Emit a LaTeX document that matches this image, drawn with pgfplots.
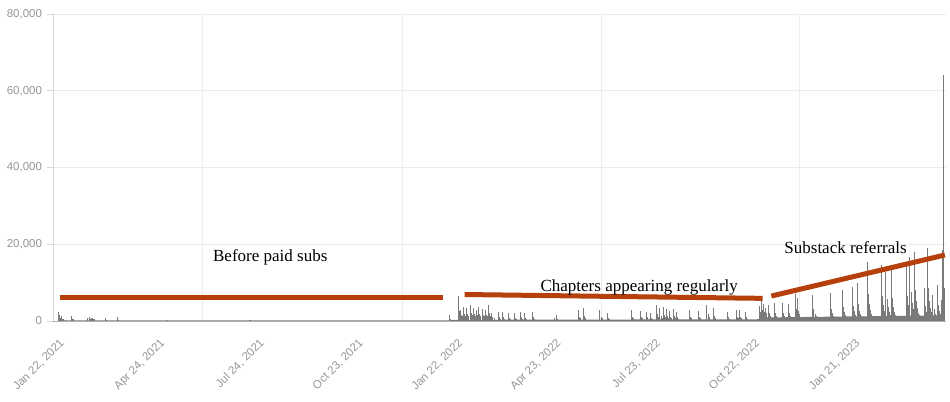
\documentclass[border=0pt]{standalone}
\usepackage{fontspec}
\setmainfont{Liberation Serif}
\newfontfamily\ticksans{Liberation Sans}
\usepackage{pgfplots}
\pgfplotsset{compat=1.18}

\definecolor{barcol}{RGB}{122,122,122}
\definecolor{rust}{RGB}{181,64,12}
\definecolor{tickgray}{RGB}{150,150,150}
\definecolor{gridgray}{RGB}{236,236,236}
\definecolor{ygray}{RGB}{215,215,215}
\definecolor{xgray}{RGB}{175,175,175}

\begin{document}
\begin{tikzpicture}
\begin{axis}[
    scale only axis, width=893pt, height=307pt,
    xmin=-5, xmax=813, ymin=0, ymax=80000,
    axis lines=left, axis line style={-},
    x axis line style={draw=xgray},
    y axis line style={draw=ygray},
    ytick={0,20000,40000,60000,80000},
    scaled y ticks=false,
    /pgf/number format/.cd, fixed, 1000 sep={,}, assume math mode=true, /pgfplots/.cd,
    tick label style={font=\ticksans\fontsize{11.5}{13}\selectfont, text=tickgray},
    yticklabel style={xshift=-1.5pt},
    xtick={0,92,183,274,365,455,546,637,729},
    xticklabels={{Jan 22, 2021},{Apr 24, 2021},{Jul 24, 2021},{Oct 23, 2021},{Jan 22, 2022},{Apr 23, 2022},{Jul 23, 2022},{Oct 22, 2022},{Jan 21, 2023}},
    xticklabel style={xshift=0.5pt, yshift=-6pt, rotate=45, anchor=north east},
    minor xtick={132,315,497,679},
    ymajorgrids, xminorgrids,
    major grid style={draw=gridgray, line width=0.8pt},
    minor grid style={draw=gridgray, line width=0.8pt},
    tick align=outside, major tick length=6pt, minor tick length=0pt,
    xtick style={draw=none},
    ytick style={draw=ygray, line width=0.8pt},
]

% low daily background level
\addplot[fill=barcol, draw=none] coordinates {
    (0,150) (358,150) (362,300) (640,450) (646,900) (700,1100) (760,1300) (812,1500)
} \closedcycle;

% daily views, spikes and their tails
\addplot[ycomb, draw=barcol, line width=1pt] coordinates {
    (0,2400) (1,1500) (2,900) (3,1200) (4,600) (5,500) (6,300)
    (12,1300) (13,600) (14,400)
    (27,700) (28,1000) (29,600) (30,900) (31,800) (32,500) (33,400)
    (43,900) (44,300) (54,1100) (55,300)
    (100,250) (175,350) (176,200)
    (358,1500) (359,500)
    (366,6600) (367,2500) (368,2900) (369,1600) (370,1200) (371,3700) (372,1900)
    (373,1400) (374,3300) (375,1700) (376,1300) (377,4200) (378,2100) (379,1500)
    (380,3300) (381,1700) (382,1200) (383,2900) (384,1500) (385,3700) (386,1900)
    (387,1400) (388,3100) (389,1600) (390,1200) (391,2900) (392,1500) (393,1200)
    (394,4200) (395,2000) (396,1300) (397,2200) (398,1000) (399,700)
    (403,2400) (404,960) (405,600)
    (407,2400) (408,960) (409,600)
    (412,2200) (413,880) (414,550)
    (418,2000) (419,800) (420,500)
    (423,2400) (424,960) (425,600)
    (427,2000) (428,800) (429,500)
    (434,2400) (435,960) (436,600)
    (454,800) (456,1500) (457,600) (458,380)
    (476,2900) (477,1160) (478,720)
    (481,3300) (482,1320) (483,820)
    (496,2900) (497,1160) (498,720)
    (503,2200) (504,880) (505,550)
    (525,2900) (526,1160) (527,720)
    (533,2600) (534,1040) (535,650)
    (539,2400) (540,960) (541,600)
    (542,2000) (543,800) (544,500)
    (548,4200) (549,1700) (550,1050)
    (551,3400) (552,1360) (553,850)
    (554,3700) (555,1480) (556,920)
    (557,3000) (558,1200) (559,750)
    (560,2600) (561,1040) (562,650)
    (563,3000) (564,1200) (565,750)
    (566,2400) (567,960) (568,600)
    (578,2900) (579,1160) (580,720)
    (586,2600) (587,1040) (588,650)
    (594,4200) (595,1700) (596,1050)
    (600,3300) (601,1320) (602,820)
    (613,2400) (614,960) (615,600)
    (621,2900) (622,1160) (623,720)
    (624,2900) (625,1160) (626,720)
    (629,2400) (630,960) (631,600)
    (642,4000) (643,2400) (644,5500) (645,2800) (646,4500) (647,2300)
    (648,3500) (649,2000) (650,4200) (651,2000) (652,1400)
    (656,4800) (657,2200) (658,1350) (659,900)
    (663,4800) (664,2200) (665,1350) (666,900)
    (669,4500) (670,2000) (671,1250)
    (675,7000) (676,3200) (677,6000) (678,2700) (679,1700) (680,1100)
    (691,6800) (692,3100) (693,1900) (694,1200)
    (707,7200) (708,3200) (709,2000) (710,1300)
    (718,8100) (719,3600) (720,2300) (721,1500)
    (727,8900) (728,4000) (729,2500) (730,1600)
    (732,9800) (733,4400) (734,2700) (735,1800) (736,1200)
    (741,15500) (742,7000) (743,4300) (744,2800) (745,1900) (746,1400)
    (754,14600) (755,6600) (756,4100) (757,2600)
    (758,12800) (759,5800) (760,3600) (761,2300) (762,1600)
    (763,13300) (764,6000) (765,3700) (766,2400) (767,1600)
    (777,14600) (778,6600) (779,4100)
    (780,16800) (781,7600) (782,4700) (783,3000)
    (784,18100) (785,8100) (786,5100) (787,3300) (788,2200) (789,1600)
    (793,8600) (794,3900) (795,2400)
    (796,18900) (797,8500) (798,5300) (799,3400) (800,2300)
    (801,6800) (802,3100) (803,1900) (804,1300)
    (805,9400) (806,4200) (807,2600) (808,1700)
    (809,5500) (810,18500) (811,64000) (812,8500)
};

% hand-drawn trend marks
\addplot[draw=rust, line width=5pt] coordinates {(1,6120) (352,6120)};
\addplot[draw=rust, line width=5pt] coordinates {(372,6900) (645,5900)};
\addplot[draw=rust, line width=5pt] coordinates {(653,6500) (812,17200)};

\node[anchor=base, font=\fontsize{17}{20}\selectfont] at (axis cs:194,15400) {Before paid subs};
\node[anchor=base, font=\fontsize{17}{20}\selectfont] at (axis cs:532,7640) {Chapters appearing regularly};
\node[anchor=base, font=\fontsize{17}{20}\selectfont] at (axis cs:721,17700) {Substack referrals};

\coordinate (sw) at (rel axis cs:0,0);
\coordinate (ne) at (rel axis cs:1,1);
\end{axis}
\pgfresetboundingbox
\path ([shift={(-53pt,-81pt)}]sw) rectangle ([shift={(4pt,14pt)}]ne);
\end{tikzpicture}
\end{document}
